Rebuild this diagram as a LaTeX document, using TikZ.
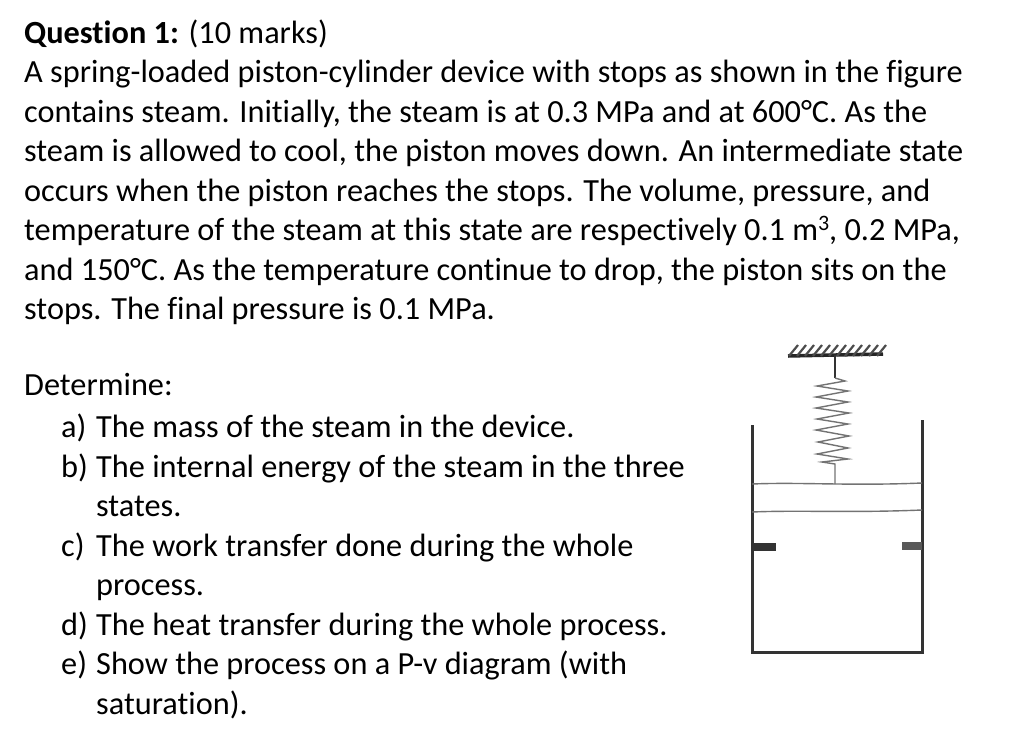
\documentclass[tikz,border=0pt]{standalone}
\usepackage{fontspec}
\setmainfont[Ligatures=NoCommon]{Carlito}
\begin{document}
\begin{tikzpicture}[x=1pt,y=-1pt,
  txt/.style={anchor=base west,inner sep=0pt,font=\fontsize{32.3}{36}\selectfont},
  wall/.style={draw=black!80,line width=3pt},
  thin/.style={draw=black!55,line width=1.4pt}]
\useasboundingbox (0,0) rectangle (1024,736);
\node[txt] (l0) at (24,43) {\textbf{Question 1:} (10 marks)};
\node[txt] (l1) at (24,82) {A spring-loaded piston-cylinder device with stops as shown in the figure};
\node[txt] (l2) at (24,122) {contains steam. Initially, the steam is at 0.3 MPa and at 600°C. As the};
\node[txt] (l3) at (24,161) {steam is allowed to cool, the piston moves down. An intermediate state};
\node[txt] (l4) at (24,201) {occurs when the piston reaches the stops. The volume, pressure, and};
\node[txt] (l5) at (24,240) {temperature of the steam at this state are respectively 0.1 m{\fontsize{22}{24}\selectfont\raisebox{0.45em}{3}}, 0.2 MPa,};
\node[txt] (l6) at (24,280) {and 150°C. As the temperature continue to drop, the piston sits on the};
\node[txt] (l7) at (24,319) {stops. The final pressure is 0.1 MPa.};
\node[txt] (d0) at (24,395) {Determine:};
\node[txt] (a0) at (61,437) {a)};\node[txt] (a1) at (96,437) {The mass of the steam in the device.};
\node[txt] (b0) at (61,477) {b)};\node[txt] (b1) at (96,477) {The internal energy of the steam in the three};
\node[txt] (b2) at (96,516) {states.};
\node[txt] (c0) at (61,556) {c)};\node[txt] (c1) at (96,556) {The work transfer done during the whole};
\node[txt] (c2) at (96,595) {process.};
\node[txt] (e0) at (61,635) {d)};\node[txt] (e1) at (96,635) {The heat transfer during the whole process.};
\node[txt] (f0) at (61,674) {e)};\node[txt] (f1) at (96,674) {Show the process on a P-v diagram (with};
\node[txt] (f2) at (96,714) {saturation).};
% ceiling
\draw[black!85,line width=3.5pt] (788,356) -- (883,354);
\foreach \i in {0,...,11} \draw[black!70,line width=2.2pt] (789+\i*8,356) -- (798+\i*8,345);
% spring
\draw[black!80,line width=2.5pt] (835,355) -- (835,378);
\draw[thin] (835,378) -- (845,381) -- (817,386) -- (848,391) -- (816,397) -- (848,402) -- (816,408) -- (849,413) -- (817,419) -- (848,424) -- (816,430) -- (849,436) -- (818,442) -- (848,448) -- (817,454) -- (848,459) -- (822,462) -- (835,464) -- (835,484);
% cylinder
\draw[wall] (752,425) -- (752,652) -- (922,652) -- (922,420);
\draw[thin] (752,484) .. controls (800,482) and (850,486) .. (922,483);
\draw[thin] (752,512) .. controls (800,510) and (850,513) .. (922,510);
% stops
\fill[black!80] (752,543) rectangle (776,551);
\fill[black!65] (902,542) rectangle (922,550);
\end{tikzpicture}
\end{document}
